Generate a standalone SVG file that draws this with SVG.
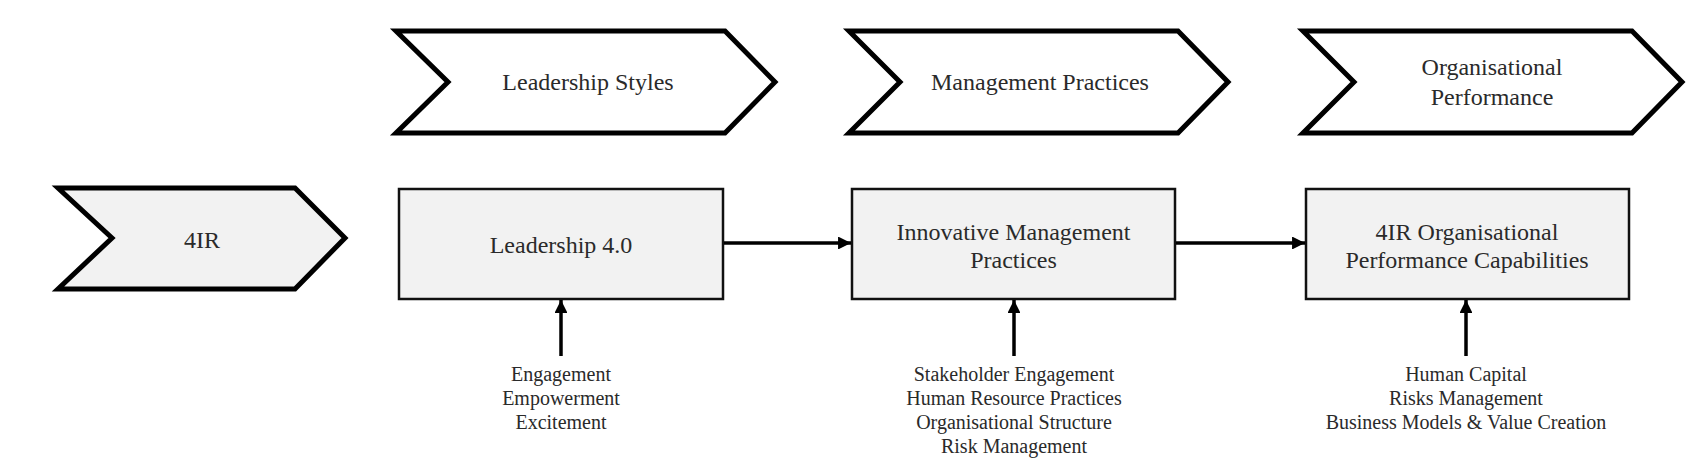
<svg xmlns="http://www.w3.org/2000/svg" width="1700" height="464" viewBox="0 0 1700 464">
<defs>
<style>
.chev{fill:#ffffff;stroke:#000;stroke-width:5;stroke-linejoin:miter}
.chevg{fill:#f2f2f2;stroke:#000;stroke-width:5;stroke-linejoin:miter}
.box{fill:#f2f2f2;stroke:#111;stroke-width:2.5}
.t{font-family:"Liberation Serif","Times New Roman",serif;font-size:24px;fill:#2a2a2a;text-anchor:middle}
.l{font-family:"Liberation Serif","Times New Roman",serif;font-size:20px;fill:#2a2a2a;text-anchor:middle}
.c{stroke:#000;stroke-width:3.5;fill:none}
</style>
<marker id="ah" viewBox="0 0 10 10" refX="10" refY="5" markerWidth="3.7" markerHeight="3.7" orient="auto" markerUnits="strokeWidth">
<path d="M0,0 L10,5 L0,10 z" fill="#000"/>
</marker>
</defs>
<rect width="1700" height="464" fill="#fff"/>
<g id="chevron-leadership-styles">
<polygon class="chev" points="396,31 725,31 775,82 725,133 396,133 448,82"/>
<text class="t" x="588" y="90">Leadership Styles</text>
</g>
<g id="chevron-management-practices">
<polygon class="chev" points="849,31 1178,31 1228,82 1178,133 849,133 900,82"/>
<text class="t" x="1040" y="90">Management Practices</text>
</g>
<g id="chevron-organisational-performance">
<polygon class="chev" points="1303,31 1632,31 1682,82 1632,133 1303,133 1354,82"/>
<text class="t" x="1492" y="75">Organisational</text>
<text class="t" x="1492" y="105">Performance</text>
</g>
<g id="chevron-4ir">
<polygon class="chevg" points="58,188 295,188 345,238 295,289 58,289 112,238"/>
<text class="t" x="202" y="248">4IR</text>
</g>
<g id="box-leadership">
<rect class="box" x="399" y="189" width="324" height="110"/>
<text class="t" x="561" y="253">Leadership 4.0</text>
</g>
<g id="box-innovative">
<rect class="box" x="852" y="189" width="323" height="110"/>
<text class="t" x="1013.5" y="240">Innovative Management</text>
<text class="t" x="1013.5" y="268">Practices</text>
</g>
<g id="box-performance">
<rect class="box" x="1306" y="189" width="323" height="110"/>
<text class="t" x="1467" y="240">4IR Organisational</text>
<text class="t" x="1467" y="268">Performance Capabilities</text>
</g>
<g id="labels-leadership">
<text class="l" x="561" y="381">Engagement</text>
<text class="l" x="561" y="405">Empowerment</text>
<text class="l" x="561" y="429">Excitement</text>
</g>
<g id="labels-innovative">
<text class="l" x="1014" y="381">Stakeholder Engagement</text>
<text class="l" x="1014" y="405">Human Resource Practices</text>
<text class="l" x="1014" y="429">Organisational Structure</text>
<text class="l" x="1014" y="453">Risk Management</text>
</g>
<g id="labels-performance">
<text class="l" x="1466" y="381">Human Capital</text>
<text class="l" x="1466" y="405">Risks Management</text>
<text class="l" x="1466" y="429">Business Models &amp; Value Creation</text>
</g>
<g id="connectors">
<line class="c" x1="724" y1="243" x2="851" y2="243" marker-end="url(#ah)"/>
<line class="c" x1="1176" y1="243" x2="1305" y2="243" marker-end="url(#ah)"/>
<line class="c" x1="561" y1="356" x2="561" y2="300" marker-end="url(#ah)"/>
<line class="c" x1="1014" y1="356" x2="1014" y2="300" marker-end="url(#ah)"/>
<line class="c" x1="1466" y1="356" x2="1466" y2="300" marker-end="url(#ah)"/>
</g>
</svg>
